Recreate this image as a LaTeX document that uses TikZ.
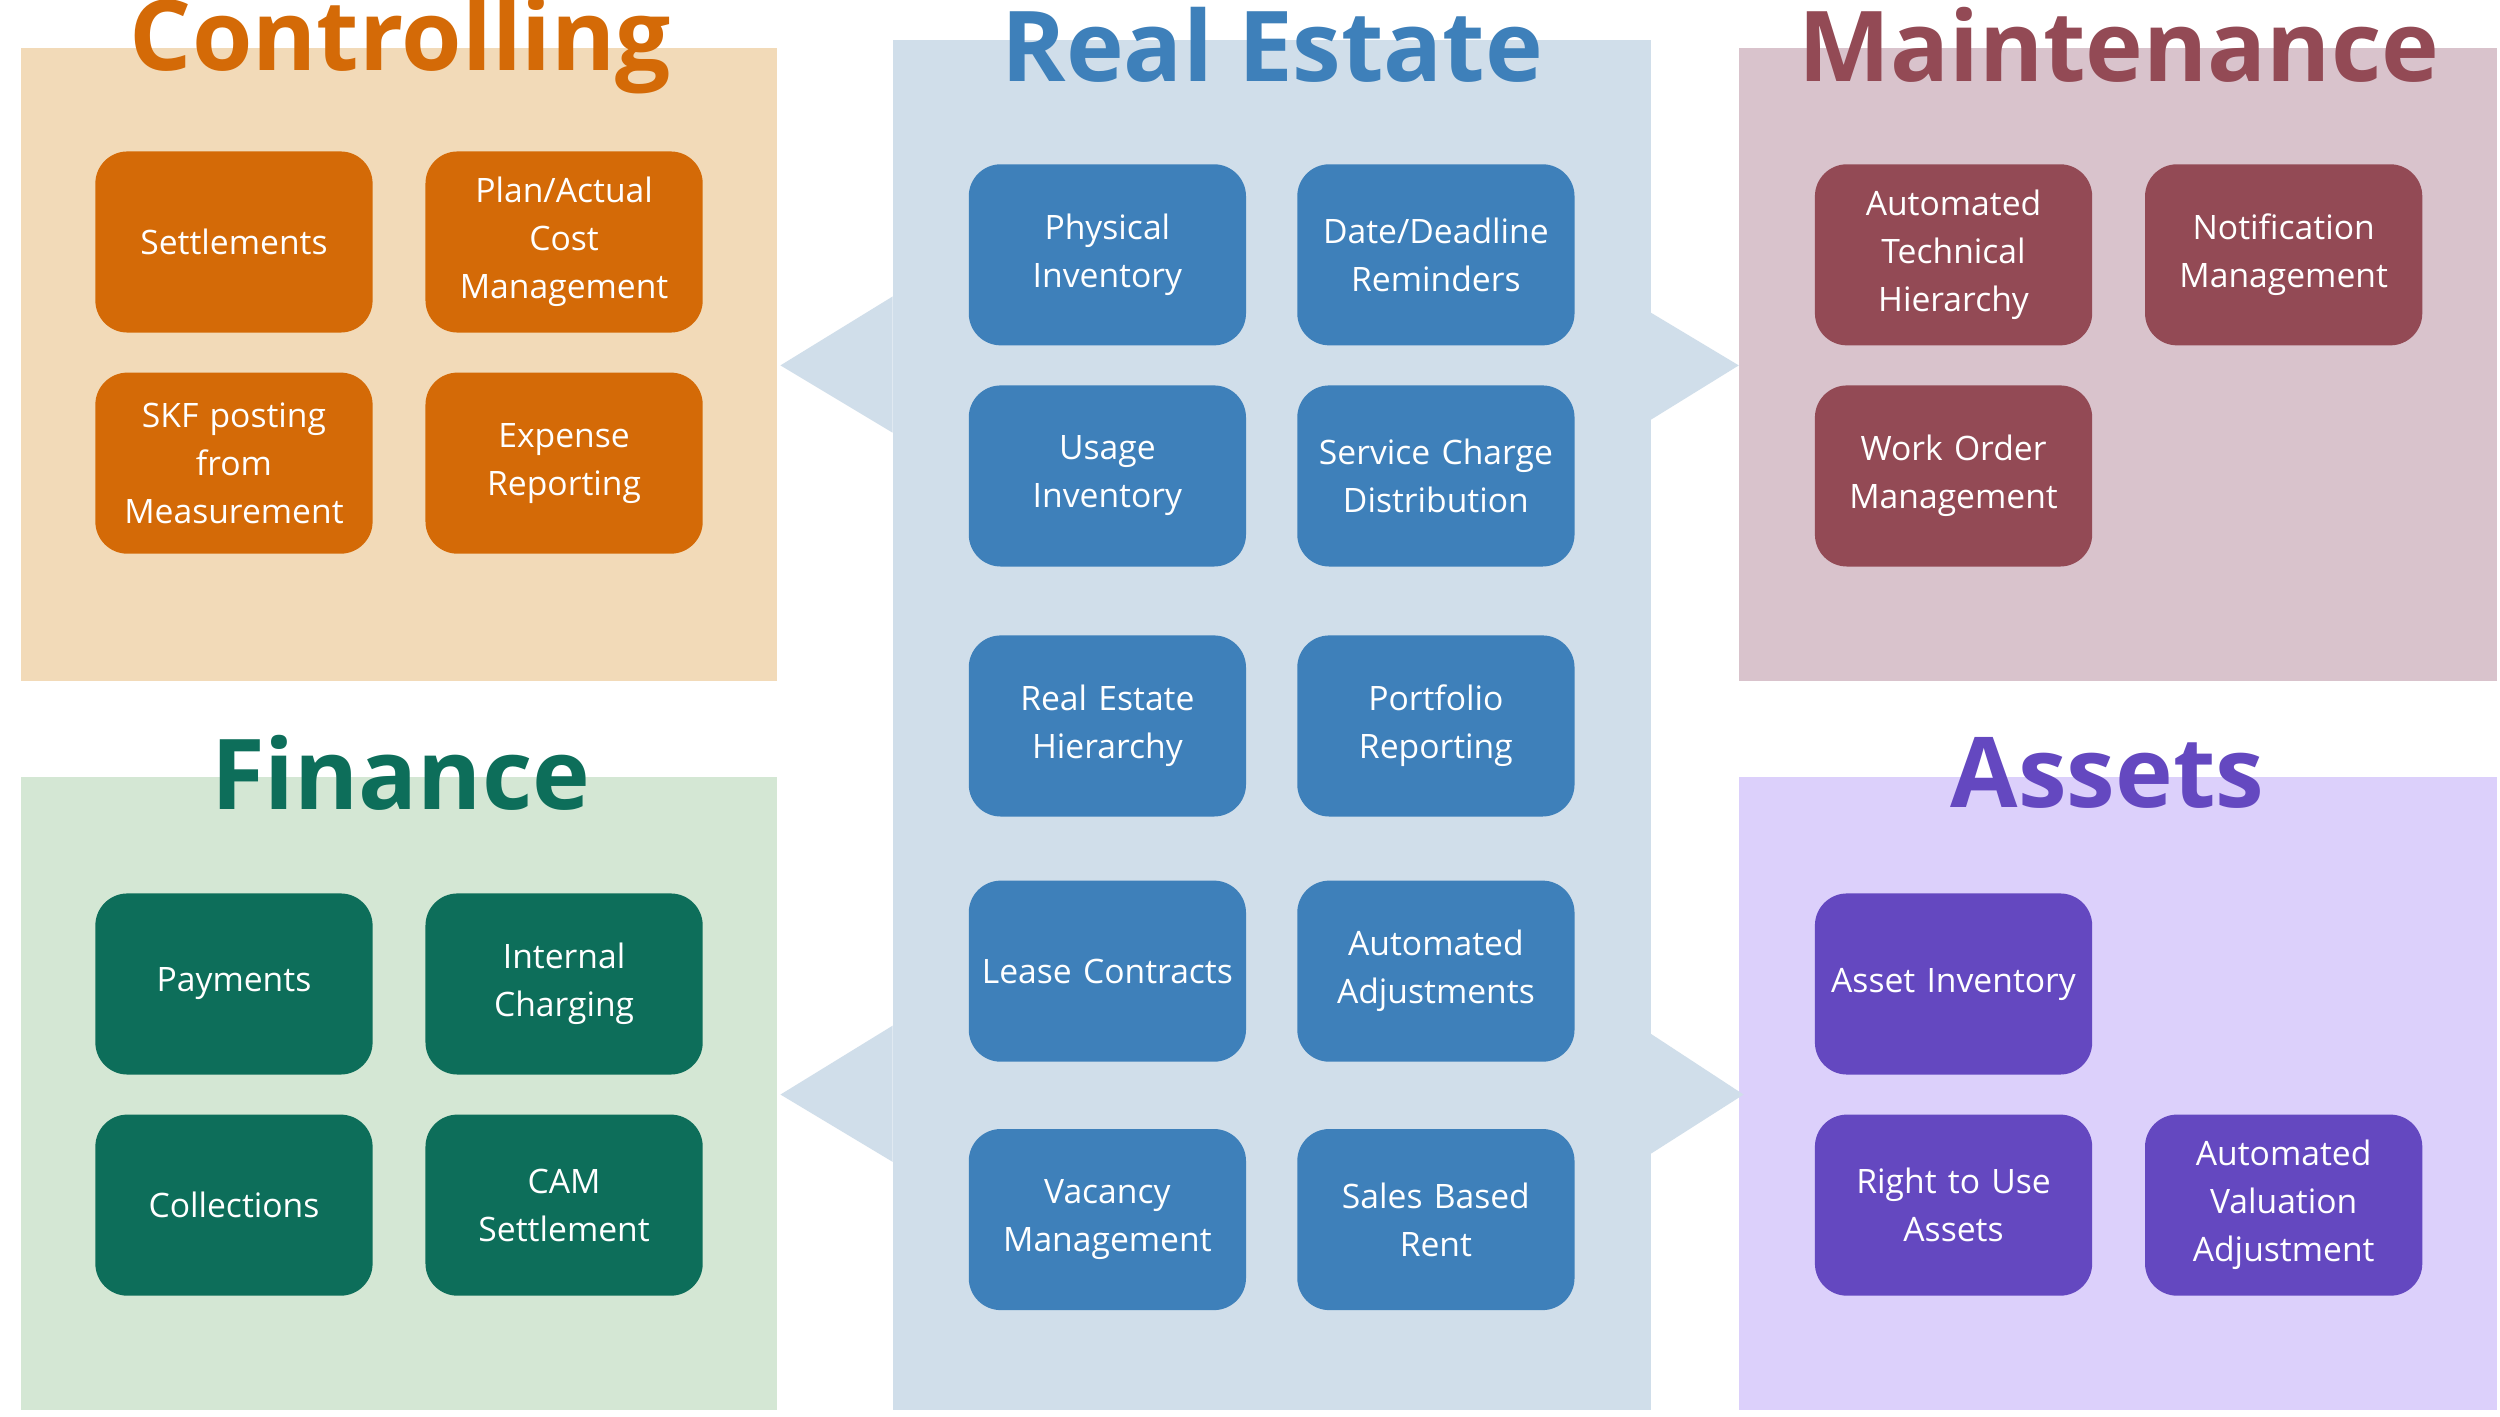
\documentclass[tikz,border=0pt]{standalone}
\usepackage{fontspec}
\setmainfont{Open Sans}
\begin{document}
\begin{tikzpicture}[x=1pt,y=-1pt,
  box/.style={rounded corners=20pt,minimum width=173pt,minimum height=113pt,align=center,text=white,font=\fontsize{21}{30}\selectfont,inner sep=2pt,text width=168pt},
  ttl/.style={font=\fontsize{61}{61}\selectfont\bfseries}]
\definecolor{cP}{HTML}{F2DAB8}\definecolor{cB}{HTML}{D46A07}
\definecolor{rP}{HTML}{D0DEEA}\definecolor{rB}{HTML}{3E80BA}
\definecolor{mP}{HTML}{D9C3CC}\definecolor{mB}{HTML}{934A55}
\definecolor{fP}{HTML}{D4E7D4}\definecolor{fB}{HTML}{0D6E5A}
\definecolor{aP}{HTML}{DCD0FB}\definecolor{aB}{HTML}{6448C0}
\fill[white] (0,0) rectangle (1560,884);
\useasboundingbox (0,0) rectangle (1560,884);
\clip (0,0) rectangle (1560,884);
\fill[cP] (13,30) rectangle (485,425);
\fill[mP] (1085,30) rectangle (1558,425);
\fill[fP] (13,485) rectangle (485,880);
\fill[aP] (1085,485) rectangle (1558,880);
\fill[rP] (557,25) rectangle (1030,880);
\fill[rP] (557,185) -- (487,228) -- (557,270) -- cycle;
\fill[rP] (1030,195) -- (1085,228) -- (1030,262) -- cycle;
\fill[rP] (557,640) -- (487,683) -- (557,725) -- cycle;
\fill[rP] (1030,645) -- (1088,683) -- (1030,720) -- cycle;
\node[ttl,text=cB] (tc) at (250,28) {Controlling};
\node[ttl,text=rB] (tr) at (794,28) {Real Estate};
\node[ttl,text=mB] (tm) at (1322,28) {Maintenance};
\node[ttl,text=fB] (tf) at (250,482) {Finance};
\node[ttl,text=aB] (ta) at (1315,482) {Assets};
\tikzset{cb/.style={box,fill=cB},rb/.style={box,fill=rB},mb/.style={box,fill=mB},fb/.style={box,fill=fB},ab/.style={box,fill=aB}}
\node[cb] (c1) at (146,151) {Settlements};
\node[cb] (c2) at (352,151) {Plan/Actual\\Cost\\Management};
\node[cb] (c3) at (146,289) {SKF posting\\from\\Measurement};
\node[cb] (c4) at (352,289) {Expense\\Reporting};
\node[rb] (r1) at (691,159) {Physical\\Inventory};
\node[rb] (r2) at (896,159) {Date/Deadline\\Reminders};
\node[rb] (r3) at (691,297) {Usage\\Inventory};
\node[rb] (r4) at (896,297) {Service Charge\\Distribution};
\node[rb] (r5) at (691,453) {Real Estate\\Hierarchy};
\node[rb] (r6) at (896,453) {Portfolio\\Reporting};
\node[rb] (r7) at (691,606) {Lease Contracts};
\node[rb] (r8) at (896,606) {Automated\\Adjustments};
\node[rb] (r9) at (691,761) {Vacancy\\Management};
\node[rb] (r10) at (896,761) {Sales Based\\Rent};
\node[mb] (m1) at (1219,159) {Automated\\Technical\\Hierarchy};
\node[mb] (m2) at (1425,159) {Notification\\Management};
\node[mb] (m3) at (1219,297) {Work Order\\Management};
\node[fb] (f1) at (146,614) {Payments};
\node[fb] (f2) at (352,614) {Internal\\Charging};
\node[fb] (f3) at (146,752) {Collections};
\node[fb] (f4) at (352,752) {CAM\\Settlement};
\node[ab] (a1) at (1219,614) {Asset Inventory};
\node[ab] (a2) at (1219,752) {Right to Use\\Assets};
\node[ab] (a3) at (1425,752) {Automated\\Valuation\\Adjustment};
\end{tikzpicture}
\end{document}
